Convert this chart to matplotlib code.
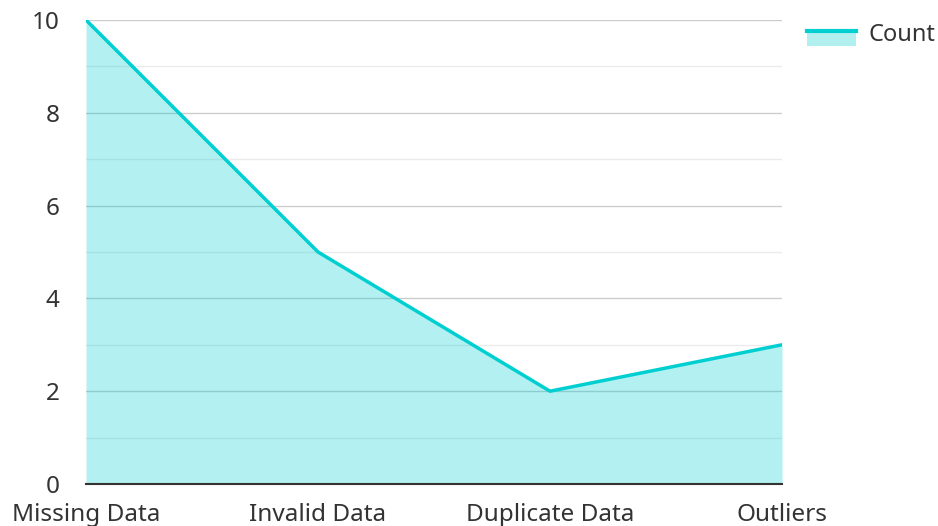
import matplotlib
matplotlib.use("Agg")
import matplotlib.pyplot as plt
from matplotlib.lines import Line2D
from matplotlib.patches import Patch, Rectangle
from matplotlib.legend_handler import HandlerBase
import numpy as np

categories = ["Missing Data", "Invalid Data", "Duplicate Data", "Outliers"]
counts = [10, 5, 2, 3]
series_name = "Count"

plt.rcParams['font.family'] = ['Noto Sans', 'DejaVu Sans']

line_color = "#00cfd1"
fill_color = "#b2efef"

fig = plt.figure(figsize=(9.38, 5.26), dpi=100)
ax = fig.add_axes([86/938, 1-484/526, (782-86)/938, (484-20)/526])

x = np.arange(len(categories))
ax.fill_between(x, counts, 0, color=line_color, alpha=0.3, linewidth=0, zorder=3)
ax.plot(x, counts, color=line_color, linewidth=2.5, zorder=4, solid_capstyle='round')

ax.set_xlim(0, len(categories)-1)
ax.set_ylim(0, 10)
ax.set_xticks(x)
ax.set_xticklabels(categories)
ax.set_yticks([0, 2, 4, 6, 8, 10])
ax.set_yticks([1, 3, 5, 7, 9], minor=True)
ax.grid(True, which='major', axis='y', color='#cccccc', linewidth=1, zorder=1)
ax.grid(True, which='minor', axis='y', color='#ebebeb', linewidth=1, zorder=1)
ax.set_axisbelow(True)
for s in ['top', 'right', 'left']:
    ax.spines[s].set_visible(False)
ax.spines['bottom'].set_color('#333333')
ax.spines['bottom'].set_linewidth(1.5)
ax.spines['bottom'].set_zorder(5)
ax.tick_params(axis='both', which='both', length=0, labelsize=17.5, labelcolor='#333333')
ax.tick_params(axis='y', pad=19)
ax.tick_params(axis='x', pad=14)


class AreaHandler(HandlerBase):
    def create_artists(self, legend, orig_handle, xdescent, ydescent, width, height, fontsize, trans):
        r = Rectangle((-xdescent, -ydescent - height*0.25), width, height*0.95,
                      facecolor=fill_color, edgecolor='none', transform=trans)
        l = Line2D([-xdescent, -xdescent + width], [-ydescent + height*0.6, -ydescent + height*0.6],
                   color=line_color, linewidth=3, transform=trans)
        return [r, l]


handle = Patch(label=series_name)
leg = fig.legend([handle], [series_name], handler_map={Patch: AreaHandler()},
                 loc='upper right', bbox_to_anchor=(1 - 3/938, 1-23/526), frameon=False,
                 fontsize=17, handlelength=2.1, handleheight=0.8, handletextpad=0.5,
                 borderaxespad=0, borderpad=0.0)
for t in leg.get_texts():
    t.set_color('#333333')

fig.savefig("out.png", dpi=100)
